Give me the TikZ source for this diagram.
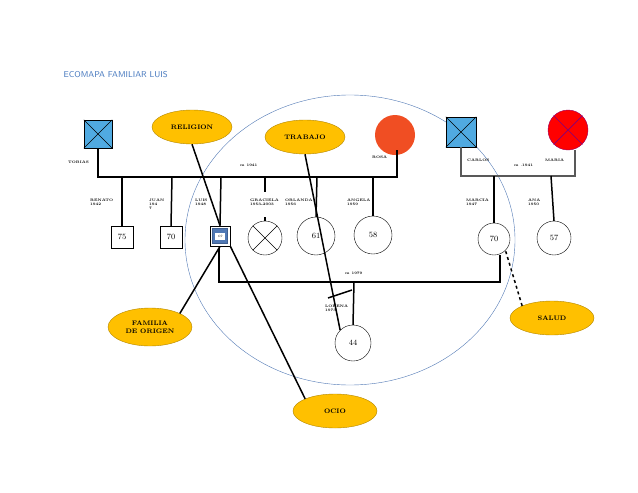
\documentclass[tikz,border=0pt]{standalone}
\usepackage{fontspec}
\usetikzlibrary{shapes.geometric}
\definecolor{ttl}{RGB}{70,120,190}
\definecolor{sq}{RGB}{80,170,225}
\definecolor{rosa}{RGB}{240,78,35}
\definecolor{yel}{RGB}{255,192,0}
\definecolor{ell}{RGB}{80,120,180}
\begin{document}
\begin{tikzpicture}[x=1pt,y=-1pt,
 lab/.style={font=\fontsize{3.6}{4}\selectfont\bfseries,align=left,inner sep=0pt,anchor=north west},
 box/.style={draw,minimum size=22pt,inner sep=0pt,font=\fontsize{8}{9}\selectfont},
 circ/.style={draw,circle,inner sep=0pt,font=\fontsize{8}{9}\selectfont},
 oval/.style={ellipse,fill=yel,draw=yel!70!black,font=\fontsize{6.5}{7.5}\selectfont\bfseries,align=center,inner sep=0pt},
 th/.style={line width=2.2pt},
 ln/.style={line width=1.5pt}]
\useasboundingbox (0,0) rectangle (638,493);
\node[font=\sffamily\fontsize{8.5}{10}\selectfont,text=ttl,anchor=west] (title) at (60,75) {ECOMAPA FAMILIAR LUIS};
\node[draw=ell,ellipse,minimum width=330pt,minimum height=290pt] (big) at (350,240) {};
% Tobias / Rosa
\node[draw,fill=sq,minimum size=28pt,inner sep=0pt] (tob) at (98,134) {};
\draw (tob.north west)--(tob.south east) (tob.north east)--(tob.south west);
\node[circle,fill=rosa,minimum size=40pt,inner sep=0pt] (rosa) at (395,135) {};
\draw[th] (tob.south) -- (98,177) coordinate (tl) -- (397,177) coordinate (tr) -- (397,150);
\node[lab] (ltob) at (68,161) {TOBIAS};
\node[lab] (lrosa) at (372,156) {ROSA};
\node[lab] (lm1) at (240,164) {m 1941};
% children
\node[box] (ren) at (122,237) {75};
\node[box] (jua) at (171,237) {70};
\node[draw,minimum size=20pt,inner sep=0pt,line width=0.8pt] (lui) at (220,236) {};
\node[draw=ell!80!black,fill=ell,minimum size=15pt,inner sep=0pt] (luii) at (220,236) {};
\node[fill=white,minimum width=10pt,minimum height=7pt,inner sep=0pt,font=\fontsize{3.5}{4}\selectfont\itshape] (luit) at (220,236) {69};
\node[circ,minimum size=34pt] (gra) at (265,238) {};
\draw (gra.north west)--(gra.south east) (gra.north east)--(gra.south west);
\node[circ,minimum size=38pt] (orl) at (316,236) {61};
\node[circ,minimum size=38pt] (ang) at (373,235) {58};
\draw[ln] (122,177)--(ren.north);
\draw[ln] (172,177)--(jua.north);
\draw[ln] (221,177)--(lui.north);
\draw[ln] (265,177)--(265,192);
\draw[ln] (265,217)--(gra.north);
\draw[ln] (317,177)--(orl.north);
\draw[ln] (373,177)--(ang.north);
\node[lab] (lren) at (90,199) {RENATO\\1942};
\node[lab] (ljua) at (149,199) {JUAN\\194\\7};
\node[lab] (llui) at (195,199) {LUIS\\1948};
\node[lab] (lgra) at (250,199) {GRACIELA\\1953-2003};
\node[lab] (lorl) at (285,199) {ORLANDA\\1956};
\node[lab] (lang) at (347,199) {ANGELA\\1959};
% Carlos / Maria
\node[draw,fill=sq,minimum size=30pt,inner sep=0pt] (car) at (461,132) {};
\draw (car.north west)--(car.south east) (car.north east)--(car.south west);
\node[circle,fill=red,draw=red!60!blue,minimum size=40pt,inner sep=0pt] (mar) at (568,130) {};
\draw[red!50!blue,line width=0.7pt] (mar.north west)--(mar.south east) (mar.north east)--(mar.south west);
\draw[line width=1.8pt,black!65] (car.south) -- (461,176) -- (575,176) -- (575,150);
\node[lab] (lcar) at (467,159) {CARLOS};
\node[lab] (lmar) at (545,159) {MARIA};
\node[lab] (lm2) at (514,164) {m .1941};
\node[circ,minimum size=32pt] (mci) at (494,239) {70};
\node[circ,minimum size=34pt] (ana) at (554,238) {57};
\draw[ln] (494,176)--(mci.north);
\draw[ln] (551,176)--(ana.north);
\node[lab] (lmci) at (466,199) {MARCIA\\1947};
\node[lab] (lana) at (528,199) {ANA\\1950};
% Luis-Marcia
\draw[ln] (219,248)--(219,282)--(500,282)--(500,255);
\node[lab] (lm3) at (345,272) {m 1979};
\node[circ,minimum size=36pt] (lor) at (353,343) {44};
\draw[ln] (354,282)--(lor.north);
\draw[ln] (328,298)--(352,290);
\node[lab] (llor) at (325,305) {LORENA\\1973};
% ecomap ovals
\node[oval,minimum width=80pt,minimum height=34pt] (rel) at (192,127) {RELIGION};
\node[oval,minimum width=80pt,minimum height=34pt] (tra) at (305,137) {TRABAJO};
\node[oval,minimum width=84pt,minimum height=38pt] (fam) at (150,327) {FAMILIA\\DE ORIGEN};
\node[oval,minimum width=84pt,minimum height=34pt] (oci) at (335,411) {OCIO};
\node[oval,minimum width=84pt,minimum height=34pt] (sal) at (552,318) {SALUD};
\draw[ln] (rel.south) -- (lui.north);
\draw[ln] (tra.south) -- (lor.north west);
\draw[ln] (fam.north east) -- (lui.south);
\draw[ln] (oci.north west) -- (lui.south east);
\draw[ln,dashed] (sal.north west) -- (mci.south east);
\end{tikzpicture}
\end{document}
